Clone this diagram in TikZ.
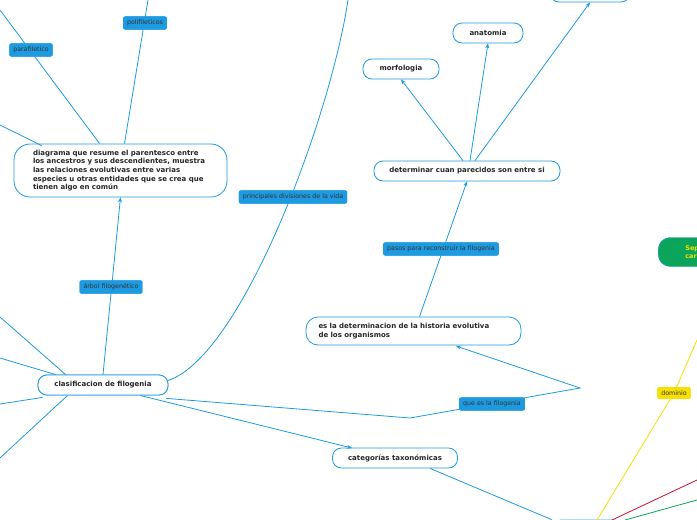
\documentclass[tikz,border=0pt]{standalone}
\usepackage{fontspec}
\setmainfont{DejaVu Sans}
\usetikzlibrary{arrows.meta}
\definecolor{bl}{HTML}{1E9BE0}
\definecolor{gr}{HTML}{0AA55A}
\definecolor{yl}{HTML}{F5E000}
\definecolor{rd}{HTML}{C8102E}
\hyphenpenalty=10000\relax
\exhyphenpenalty=10000\relax
\begin{document}
\begin{tikzpicture}[x=1pt,y=-1pt,
  topic/.style={draw=bl,line width=0.8pt,rounded corners=9pt,fill=white,font=\bfseries\fontsize{7}{8.6}\selectfont,text=black!85,inner sep=0pt,align=left},
  lab/.style={fill=bl,rounded corners=2pt,font=\fontsize{6.3}{7}\selectfont,text=black!80,inner xsep=4pt,inner ysep=3.5pt},
  con/.style={draw=bl,line width=0.8pt},
  arr/.style={con,-{Stealth[length=5pt,width=4pt]}}]
\useasboundingbox (0,0) rectangle (697,520);
% nodes
\node[topic,minimum width=130,minimum height=20,align=center] (clas) at (103,385) {clasificacion de filogenia};
\node[topic,minimum width=213,minimum height=53,rounded corners=16pt,text width=175] (diag) at (120.5,170.5) {diagrama que resume el parentesco entre los ancestros y sus descendientes, muestra las relaciones evolutivas entre varias especies u otras entidades que se crea que tienen algo en común};
\node[topic,minimum width=186,minimum height=20,align=center] (det) at (467,171) {determinar cuan parecidos son entre si};
\node[topic,minimum width=76,minimum height=20,align=center] (morf) at (401,69) {morfologia};
\node[topic,minimum width=70,minimum height=20,align=center] (anat) at (488,33) {anatomia};
\node[topic,minimum width=80,minimum height=14] (topb) at (590,-5) {};
\node[topic,minimum width=215,minimum height=28,rounded corners=12pt,text width=190] (esla) at (413.5,331) {es la determinacion de la historia evolutiva\\de los organismos};
\node[topic,minimum width=125,minimum height=20,align=center] (cat) at (395,458) {categorías taxonómicas};
\node[topic,minimum width=70,minimum height=14] (botb) at (587,527) {};
\node[draw=bl,fill=gr,rounded corners=12pt,minimum width=80,minimum height=29,anchor=west,text=yl,font=\bfseries\fontsize{6.5}{7.5}\selectfont,align=left] (sep) at (658,252) {Separa\\caract};
% labels
\node[lab] (parl) at (31,50) {parafiletico};
\node[lab] (poll) at (145,23) {polifileticos};
\node[lab] (arbl) at (111,287) {árbol filogenético};
\node[lab] (prin) at (293,197) {principales divisiones de la vida};
\node[lab] (pasl) at (441,249) {pasos para reconstruir la filogenia};
\node[lab] (quel) at (492,404) {que es la filogenia};
\node[lab,fill=yl] (doml) at (674,393) {dominio};
\coordinate (c1) at (410,418);
\coordinate (c2) at (580,388);
\coordinate (catin) at (352,448);
\coordinate (esin) at (456,346);
% connectors
\draw[arr] (clas.north) -- (diag.south);
\draw[con] ([xshift=86]diag.north west) -- (0,10);
\draw[con] ([xshift=28,yshift=-2]diag.north west) -- (0,125);
\draw[con] ([xshift=4]diag.north) -- (148,0);
\draw[con] ([xshift=28]clas.north west) -- (0,317);
\draw[con] ([xshift=18]clas.north west) -- (0,358);
\draw[con] ([xshift=5,yshift=-2]clas.south west) -- (0,404);
\draw[con] ([xshift=30]clas.south west) -- (0,458);
\draw[con] ([xshift=-2,yshift=4]clas.east) .. controls (240,360) and (330,120) .. (348,0);
\draw[arr] ([xshift=-2,yshift=-3]clas.south east) -- (c1) -- (c2) -- (esin);
\draw[arr] ([xshift=37]clas.south) -- (catin);
\draw[arr] ([xshift=6]esla.north) -- (det.south);
\draw[arr] ([xshift=-4]det.north) -- (morf.south);
\draw[arr] ([xshift=3]det.north) -- (anat.south);
\draw[arr] ([xshift=8]det.north) -- (topb.south);
\draw[con] ([xshift=35]cat.south) -- (botb.north west);
\draw[yl,line width=0.8pt] (597,520) -- (doml) -- (697,340);
\draw[rd,line width=0.8pt] (612,520) -- (697,480);
\draw[gr,line width=0.8pt] (625,520) -- (697,500);
% redraw on top
\node[topic,minimum width=130,minimum height=20,align=center] at (103,385) {clasificacion de filogenia};
\node[lab] at (31,50) {parafiletico};
\node[lab] at (145,23) {polifileticos};
\node[lab] at (111,287) {árbol filogenético};
\node[lab] at (293,197) {principales divisiones de la vida};
\node[lab] at (441,249) {pasos para reconstruir la filogenia};
\node[lab] at (492,404) {que es la filogenia};
\node[lab,fill=yl] at (674,393) {dominio};
\end{tikzpicture}
\end{document}
